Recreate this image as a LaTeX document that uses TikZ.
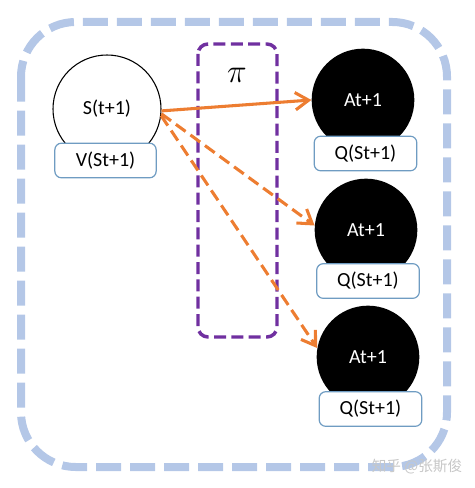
\documentclass[tikz,border=0pt]{standalone}
\usepackage{fontspec}
\setmainfont{Carlito}
\newfontfamily\cjk{Noto Sans CJK SC}
\usetikzlibrary{arrows.meta}
\definecolor{outerblue}{HTML}{B4C7E7}
\definecolor{piPurple}{HTML}{7030A0}
\definecolor{arrOrange}{HTML}{ED7D31}
\definecolor{boxBorder}{HTML}{6F9CC2}
\begin{document}
\begin{tikzpicture}[x=0.75pt,y=-0.75pt,
  statecirc/.style={circle,draw=black,line width=0.8pt,fill=white,minimum size=81pt,inner sep=0pt,font=\fontsize{15}{15}\selectfont},
  actcirc/.style={circle,fill=black,minimum size=77pt,inner sep=0pt,text=white,font=\fontsize{15}{15}\selectfont},
  valbox/.style={rectangle,rounded corners=5pt,draw=boxBorder,line width=0.9pt,fill=white,minimum width=76pt,minimum height=26pt,inner sep=0pt,font=\fontsize{15}{15}\selectfont},
  arr/.style={draw=arrOrange,line width=2.3pt,-{Straight Barb[length=10pt,width=13pt,line width=2.3pt]}},
  darr/.style={arr,dash pattern=on 9pt off 4.5pt}]
\useasboundingbox (0,0) rectangle (474,488);
% outer dashed frame
\draw[outerblue,line width=6pt,dash pattern=on 18.75pt off 6.75pt,rounded corners=41pt] (21,22) rectangle (447,467);
% policy box
\draw[piPurple,line width=2.6pt,dash pattern=on 9pt off 4pt,rounded corners=7.5pt] (198,44) rectangle (277,337);
\node (pi) at (237,75) {\fontsize{26}{26}\selectfont$\pi$};
% state
\node[statecirc] (S) at (107,109) {S(t+1)};
\node[valbox] (V) at (105.5,160.5) {V(St+1)};
% actions
\node[actcirc] (A1) at (363,100) {At+1};
\node[valbox,minimum width=77pt] (Q1) at (365.5,153.5) {Q(St+1)};
\node[actcirc] (A2) at (366,230) {At+1};
\node[valbox,minimum width=77pt] (Q2) at (368,281) {Q(St+1)};
\node[actcirc] (A3) at (368,357) {At+1};
\node[valbox,minimum width=77pt] (Q3) at (370.5,409) {Q(St+1)};
% arrows
\draw[arr] (S.-2) -- (A1.west);
\draw[darr] (S.-5) -- (A2.175);
\draw[darr] (S.-7) -- (A3.170);
% watermark
\node[text=black!22,font=\cjk\fontsize{11}{11}\selectfont] (wm) at (417,467) {知乎 @张斯俊};
\end{tikzpicture}
\end{document}
